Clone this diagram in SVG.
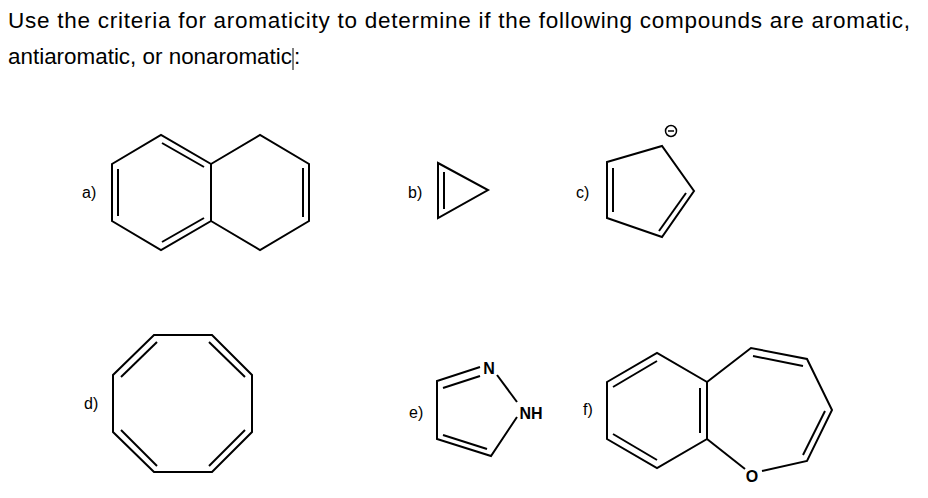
<svg xmlns="http://www.w3.org/2000/svg" width="928" height="498" viewBox="0 0 928 498">
<style>
.t{font-family:"Liberation Sans",Arial,sans-serif;fill:#000}
.h{font-size:22.5px}
.l{font-size:16px}
.at{font-size:16px;font-weight:bold;text-anchor:middle}
.b{stroke:#000;stroke-width:2;fill:none;stroke-linejoin:miter}
</style>
<rect width="928" height="498" fill="#fff"/>
<text class="t h" x="8" y="28" textLength="902" lengthAdjust="spacing">Use the criteria for aromaticity to determine if the following compounds are aromatic,</text>
<text class="t h" x="8" y="64" textLength="284" lengthAdjust="spacingAndGlyphs">antiaromatic, or nonaromatic</text>
<text class="t h" x="294" y="64">:</text>
<line x1="293" y1="48" x2="293" y2="70" stroke="#000" stroke-width="1"/>
<g id="label-a"><text class="t l" x="82" y="198">a)</text></g>
<g id="label-b"><text class="t l" x="408" y="198">b)</text></g>
<g id="label-c"><text class="t l" x="576" y="198">c)</text></g>
<g id="label-d"><text class="t l" x="84" y="409">d)</text></g>
<g id="label-e"><text class="t l" x="409" y="418">e)</text></g>
<g id="label-f"><text class="t l" x="583" y="415">f)</text></g>
<g id="compound-a" class="b">
<polygon points="112,164 161,135 211,164 211,221 161,250 112,221"/>
<polyline points="211,164 260,135 309,164 309,221 260,250 211,221"/>
<line x1="118" y1="169" x2="118" y2="216"/>
<line x1="162" y1="143" x2="204" y2="167"/>
<line x1="162" y1="242" x2="204" y2="218"/>
<line x1="303" y1="168" x2="303" y2="217"/>
</g>
<g id="compound-b" class="b">
<polygon points="438,163 488,190 438,218"/>
<line x1="444" y1="172" x2="444" y2="209"/>
</g>
<g id="compound-c">
<g class="b">
<polygon points="607,162 662,146 694,191 662,237 607,218"/>
<line x1="613" y1="168" x2="613" y2="212"/>
<line x1="686" y1="193" x2="659" y2="231"/>
<circle cx="671" cy="131" r="5.5" stroke-width="1.5"/>
<line x1="668" y1="131" x2="674" y2="131" stroke-width="1.5"/>
</g>
</g>
<g id="compound-d" class="b">
<polygon points="154,335 212,335 252,375 252,432 212,472 154,472 113,432 113,375"/>
<line x1="121" y1="377" x2="157" y2="342"/>
<line x1="209" y1="342" x2="245" y2="377"/>
<line x1="245" y1="430" x2="209" y2="466"/>
<line x1="157" y1="466" x2="121" y2="430"/>
</g>
<g id="compound-e">
<g class="b">
<polyline points="480,367 437,381 437,439 491,456 517,417"/>
<line x1="497" y1="375" x2="517" y2="402"/>
<line x1="443" y1="388" x2="480" y2="376"/>
<line x1="443" y1="435" x2="487" y2="449"/>
</g>
<text class="t at" x="489" y="374">N</text>
<text class="t at" x="531" y="419">NH</text>
</g>
<g id="compound-f">
<g class="b">
<polygon points="607,382 657,353 707,382 707,439 657,468 607,439"/>
<polyline points="707,382 751,348 807,359 832,410 807,461 762,471"/>
<line x1="745" y1="469" x2="707" y2="439"/>
<line x1="613" y1="387" x2="657" y2="361"/>
<line x1="700" y1="388" x2="700" y2="433"/>
<line x1="613" y1="434" x2="657" y2="460"/>
<line x1="753" y1="356" x2="803" y2="366"/>
<line x1="825" y1="411" x2="803" y2="455"/>
</g>
<text class="t at" x="752" y="482">O</text>
</g>
</svg>
